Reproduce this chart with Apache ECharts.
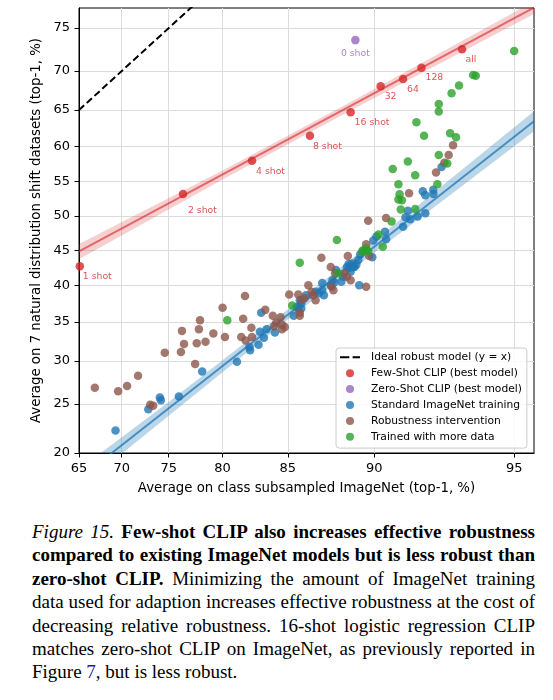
<!DOCTYPE html>
<html><head><meta charset="utf-8">
<script src="https://cdn.jsdelivr.net/npm/echarts@6/dist/echarts.min.js"></script>
<style>
html,body{margin:0;padding:0;background:#fff;}
#chart{position:absolute;left:0;top:0;width:553px;height:500px;}
#caption{position:absolute;left:32px;top:520px;width:503px;font-family:"Liberation Serif","Times New Roman",serif;font-size:19px;line-height:23.4px;color:#000;}
#caption div{text-align:justify;text-align-last:justify;}
#caption div.last{text-align:left;text-align-last:left;}
</style></head><body>
<div id="chart"></div>
<div id="caption">
<div><i>Figure 15.</i> <b>Few-shot CLIP also increases effective robustness</b></div>
<div><b>compared to existing ImageNet models but is less robust than</b></div>
<div><b>zero-shot CLIP.</b> Minimizing the amount of ImageNet training</div>
<div>data used for adaption increases effective robustness at the cost of</div>
<div>decreasing relative robustness. 16-shot logistic regression CLIP</div>
<div>matches zero-shot CLIP on ImageNet, as previously reported in</div>
<div class="last">Figure <span style="color:#1d1d9e">7</span>, but is less robust.</div>
</div>
<script>
// ---- data (percent values, axes are logit-scaled) ----
const xTicks = [65, 70, 75, 80, 85, 90, 95];
const yTicks = [20, 25, 30, 35, 40, 45, 50, 55, 60, 65, 70, 75];
const xRange = [65, 95.48];
const yRange = [20, 77.13];

const fewShotPoints = [[65.1,42.7],[76.4,53.2],[82.4,58.0],[86.45,61.5],[88.8,64.7],[90.3,68.1],[91.3,69.0],[92.05,70.4],[93.5,72.6]];
const fewShotLabels = ['1 shot','2 shot','4 shot','8 shot','16 shot','32','64','128','all'];
const zeroShotPoints = [[89.05,73.65]];
const zeroShotLabels = ['0 shot'];

const standardPoints = [[69.3,22.2],[72.9,24.4],[74.1,25.7],[74.2,25.4],[76.0,25.8],[78.2,28.7],[81.2,29.9],[82.2,31.7],[82.25,31.3],[82.9,32.0],[83.0,33.7],[83.3,32.9],[83.5,34.0],[83.1,36.2],[84.1,33.6],[85.4,35.8],[85.6,37.0],[85.9,36.8],[85.8,37.9],[86.2,38.6],[87.0,38.9],[87.2,40.3],[87.3,38.6],[87.8,40.7],[88.0,42.15],[88.3,40.5],[88.6,42.6],[88.7,43.0],[88.7,42.4],[88.8,41.9],[88.9,43.1],[89.0,42.6],[89.1,42.9],[89.2,43.6],[89.3,44.4],[89.25,40.0],[89.9,44.0],[89.95,46.4],[90.1,47.0],[90.5,47.7],[90.55,46.6],[91.3,48.4],[91.4,49.8],[91.6,49.5],[91.9,49.9],[92.2,50.4],[91.5,50.75],[92.1,53.6],[92.2,53.0],[92.5,53.8],[92.5,53.2],[92.8,57.1],[88.4,41.2],[87.9,40.4],[87.7,40.0],[86.8,39.1],[87.2,39.3],[85.9,37.5],[85.7,36.8],[88.95,42.6]];

const robustPoints = [[66.9,26.8],[69.6,26.4],[70.6,27.0],[71.8,28.2],[73.1,24.9],[73.4,24.8],[74.6,31.0],[76.2,31.1],[76.5,32.1],[76.3,33.8],[77.55,29.6],[77.7,32.2],[77.9,34.0],[78.0,35.2],[78.5,32.4],[79.2,33.45],[80.0,36.9],[80.2,33.0],[81.7,35.4],[81.85,38.5],[82.35,34.2],[81.55,33.0],[81.9,32.55],[82.4,33.0],[83.4,36.6],[83.95,35.8],[84.2,34.9],[84.5,35.6],[84.05,34.4],[84.6,34.6],[84.8,34.3],[84.6,34.0],[85.1,38.7],[85.7,38.7],[85.8,36.2],[85.8,35.8],[86.35,40.0],[86.1,38.2],[86.65,38.6],[86.8,37.9],[86.55,39.1],[87.15,43.9],[87.7,42.6],[87.75,39.8],[87.85,39.3],[88.45,41.7],[88.65,44.15],[88.6,41.2],[88.8,40.7],[89.6,45.85],[89.75,44.15],[89.6,39.8],[89.7,49.3],[90.55,49.7],[91.55,53.3],[92.6,56.3],[92.9,57.7],[93.05,58.8],[93.2,60.2],[85.9,37.95],[87.95,41.7]];

const moreDataPoints = [[80.4,35.2],[85.8,43.2],[85.3,37.2],[88.05,46.5],[88.1,41.7],[89.4,44.8],[89.45,45.0],[89.6,45.3],[89.7,44.8],[90.2,47.3],[90.4,45.5],[90.8,49.2],[91.2,50.95],[91.8,51.0],[91.15,53.15],[91.1,52.4],[91.25,52.3],[91.1,54.6],[92.65,54.6],[90.85,56.8],[91.5,57.9],[91.8,55.9],[92.7,58.8],[93.0,57.6],[91.85,63.35],[92.15,61.5],[93.1,61.85],[93.3,61.3],[92.7,65.8],[92.7,64.8],[93.15,67.2],[93.4,68.2],[93.85,69.5],[93.93,69.4],[95.0,72.4]];

const idealLine = [[65,65],[80,80]];
const fewShotFit = [[65,44.85],[95.48,77.17]];
const fewShotBandUpper = [[65,45.9],[80,56.6],[88.8,66.05],[95.48,77.8]];
const fewShotBandLower = [[65,43.7],[80,55.3],[88.8,64.95],[95.48,76.5]];
const standardFit = [[67,18.84],[95.48,63.5]];
const standardBandUpper = [[67,19.65],[75,25.2],[85,36.65],[90,46.36],[95.48,64.85]];
const standardBandLower = [[67,18.05],[75,23.7],[85,35.3],[90,44.62],[95.48,62.14]];

const seriesNames = ['Ideal robust model (y = x)','Few-Shot CLIP (best model)','Zero-Shot CLIP (best model)','Standard ImageNet training','Robustness intervention','Trained with more data'];

// ---- helpers ----
const lg = v => Math.log(v / (100 - v));
const inv = v => 100 / (1 + Math.exp(-v));
const T = arr => arr.map(p => [lg(p[0]), lg(p[1])]);

// label styling (style, not data)
const fewShotLabelOffsets = [[3,10.7],[5,17],[4,11],[3,10.7],[4,10.7],[4,10.7],[4,10.7],[4,9.6],[3.5,10.3]];
// dashed legend icon (20 x 8 box)
const dashIcon = 'path://M0,3h9.3v2h-9.3z M12.6,3h7.4v2h-7.4z M0,0h0.01v0.01h-0.01z M19.99,7.99h0.01v0.01h-0.01z';

const FONT = 'DejaVu Sans';
const chart = echarts.init(document.getElementById('chart'), null, {renderer:'canvas'});

function band(upper, lower, fill){
  const U = T(upper), L = T(lower).reverse();
  return {
    type:'custom', silent:true, clip:true, z:1,
    data:[[U[0][0], U[0][1]]],
    renderItem: function(params, api){
      const pts = U.concat(L).map(p => api.coord(p));
      return {type:'polygon', shape:{points:pts}, style:{fill:fill}};
    }
  };
}

const scatterBase = (name, data, color, z) => ({
  name, type:'scatter', data:T(data), symbol:'circle', symbolSize:8.5, z,
  itemStyle:{color, opacity:0.8}, silent:true
});

const option = {
  animation:false,
  backgroundColor:'#fff',
  grid:{left:79, right:19, top:8, bottom:47, show:true, borderColor:'#000', borderWidth:1, containLabel:false},
  xAxis:{
    type:'value', min:lg(xRange[0]), max:lg(xRange[1]),
    axisLine:{show:true, onZero:false, lineStyle:{color:'#000', width:1}},
    axisTick:{show:true, customValues:xTicks.map(lg), length:4.5, lineStyle:{color:'#000', width:1}},
    axisLabel:{customValues:xTicks.map(lg), formatter:v => String(Math.round(inv(v))), color:'#000', fontSize:13, fontFamily:FONT, margin:9},
    splitLine:{show:true, lineStyle:{color:'#dcdcdc', width:1}},
    name:'Average on class subsampled ImageNet (top-1, %)', nameLocation:'middle', nameGap:29,
    nameTextStyle:{color:'#000', fontSize:13.3, fontFamily:FONT}
  },
  yAxis:{
    type:'value', min:lg(yRange[0]), max:lg(yRange[1]),
    axisLine:{show:true, onZero:false, lineStyle:{color:'#000', width:1}},
    axisTick:{show:true, customValues:yTicks.map(lg), length:4.5, lineStyle:{color:'#000', width:1}},
    axisLabel:{customValues:yTicks.map(lg), formatter:v => String(Math.round(inv(v))), color:'#000', fontSize:13, fontFamily:FONT, margin:9},
    splitLine:{show:true, lineStyle:{color:'#dcdcdc', width:1}},
    name:'Average on 7 natural distribution shift datasets (top-1, %)', nameLocation:'middle', nameGap:31, nameRotate:90,
    nameTextStyle:{color:'#000', fontSize:13.3, fontFamily:FONT}
  },
  legend:{
    orient:'vertical', left:336, top:348,
    data:[{name:seriesNames[0], icon:dashIcon, itemStyle:{color:'#000', opacity:1}}].concat(seriesNames.slice(1).map(n => ({name:n, icon:'circle'}))),
    itemWidth:20, itemHeight:8, itemGap:3.9,
    padding:[3.3,5,5.3,4],
    backgroundColor:'rgba(255,255,255,0.85)', borderColor:'#cccccc', borderWidth:1, borderRadius:3,
    textStyle:{fontFamily:FONT, fontSize:10.7, color:'#000', lineHeight:12, padding:[0,0,0,6]},
    selectedMode:false
  },
  series:[
    {name:seriesNames[0], type:'line', data:T(idealLine), symbol:'none', silent:true, z:3, clip:true,
     lineStyle:{color:'#000', width:2, type:[7,3.5]}, itemStyle:{color:'#000'}},
    band(standardBandUpper, standardBandLower, 'rgba(31,119,180,0.3)'),
    band(fewShotBandUpper, fewShotBandLower, 'rgba(214,39,40,0.22)'),
    {type:'line', data:T(standardFit), symbol:'none', silent:true, z:2, clip:true,
     lineStyle:{color:'rgba(31,119,180,0.75)', width:2}},
    {type:'line', data:T(fewShotFit), symbol:'none', silent:true, z:2, clip:true,
     lineStyle:{color:'rgba(214,39,40,0.62)', width:2}},
    scatterBase(seriesNames[3], standardPoints, '#1f77b4', 4),
    scatterBase(seriesNames[4], robustPoints, '#8c564b', 5),
    scatterBase(seriesNames[5], moreDataPoints, '#2ca02c', 6),
    Object.assign(scatterBase(seriesNames[1], [], '#d62728', 7), {
      data: fewShotPoints.map((p,i) => ({
        value:[lg(p[0]), lg(p[1])],
        label:{show:true, formatter:fewShotLabels[i], position:'inside', align:'left', verticalAlign:'middle',
               offset:fewShotLabelOffsets[i], color:'#d62728', fontSize:9.3, fontFamily:FONT}
      }))
    }),
    Object.assign(scatterBase(seriesNames[2], [], '#9467bd', 7), {
      data: zeroShotPoints.map((p,i) => ({
        value:[lg(p[0]), lg(p[1])],
        label:{show:true, formatter:zeroShotLabels[i], position:'inside', align:'center', verticalAlign:'middle',
               offset:[0,13.3], color:'#9467bd', fontSize:9.3, fontFamily:FONT}
      }))
    })
  ]
};
chart.setOption(option);
</script>
</body></html>
